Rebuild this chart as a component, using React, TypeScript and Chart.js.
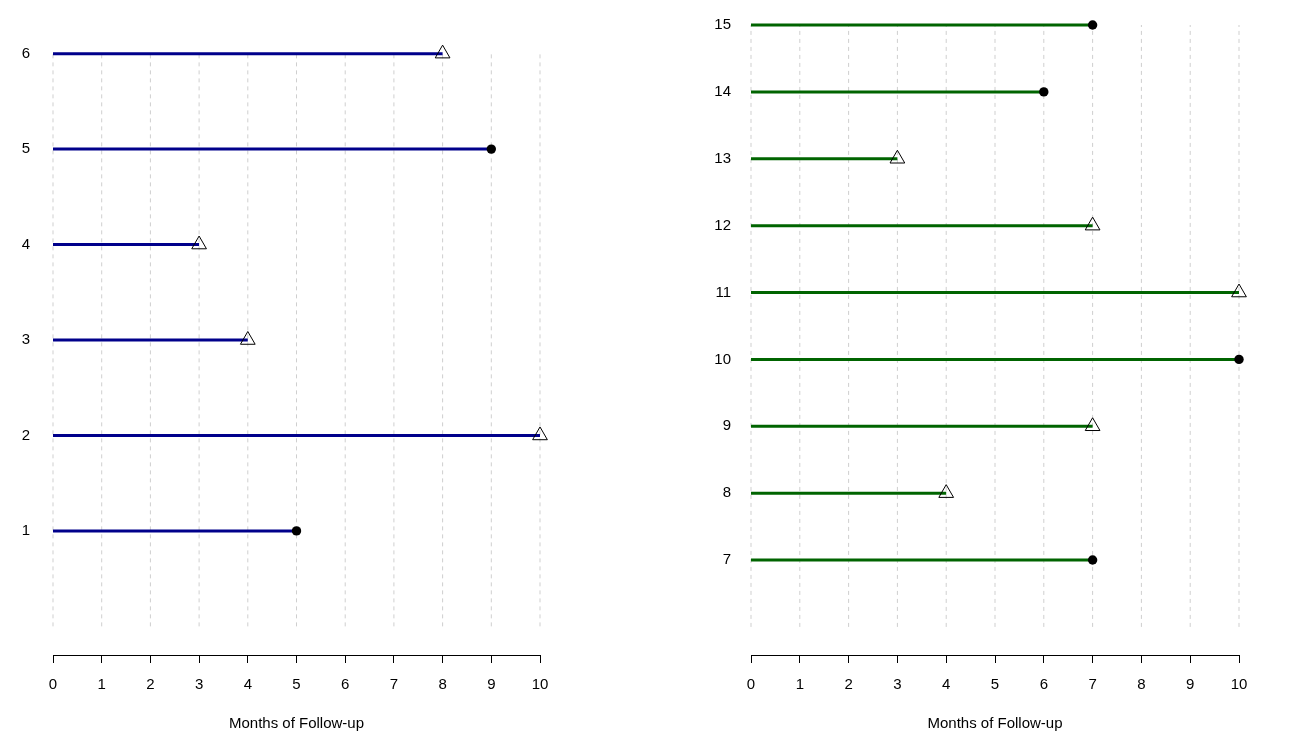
import React, { useEffect, useRef } from "react";
import { Chart, registerables } from "chart.js";

Chart.register(...registerables);

const xTicks = [0, 1, 2, 3, 4, 5, 6, 7, 8, 9, 10];
const axisTitle = "Months of Follow-up";

const leftSubjects = [1, 2, 3, 4, 5, 6];
const leftTimes = [5, 10, 4, 3, 9, 8];
const leftStatus = [1, 0, 0, 0, 1, 0]; // 1 = event (filled circle), 0 = censored (open triangle)

const rightSubjects = [7, 8, 9, 10, 11, 12, 13, 14, 15];
const rightTimes = [7, 4, 7, 10, 10, 7, 3, 6, 7];
const rightStatus = [1, 0, 0, 1, 0, 0, 0, 1, 1];

const FONT = "'Liberation Sans', Arial, sans-serif";

type PanelProps = {
  subjects: number[];
  times: number[];
  status: number[];
  color: string;
  yMin: number;
  yMax: number;
  left: number;
  width: number;
  yAxisWidth: number;
  yPad: number;
  rightPad: number;
};

function Panel(p: PanelProps) {
  const ref = useRef<HTMLCanvasElement | null>(null);
  useEffect(() => {
    if (!ref.current) return;
    const lo = Math.min(...p.subjects) - 1;
    const hi = Math.max(...p.subjects);
    const gridSets = xTicks.map((t) => ({
      data: [
        { x: t, y: lo },
        { x: t, y: hi },
      ],
      showLine: true,
      borderColor: "#cfcfcf",
      borderWidth: 1,
      borderDash: [4, 4],
      pointRadius: 0,
      order: 10,
      clip: false as any,
    }));
    const segSets = p.subjects.map((s, i) => ({
      data: [
        { x: 0, y: s },
        { x: p.times[i], y: s },
      ],
      showLine: true,
      borderColor: p.color,
      borderWidth: 3,
      pointRadius: 0,
      order: 5,
      clip: false as any,
    }));
    const events = p.subjects
      .map((s, i) => ({ x: p.times[i], y: s, st: p.status[i] }))
      .filter((d) => d.st === 1)
      .map((d) => ({ x: d.x, y: d.y }));
    const censored = p.subjects
      .map((s, i) => ({ x: p.times[i], y: s, st: p.status[i] }))
      .filter((d) => d.st === 0)
      .map((d) => ({ x: d.x, y: d.y }));
    const chart = new Chart(ref.current, {
      type: "scatter",
      data: {
        datasets: [
          {
            data: events,
            pointStyle: "circle",
            pointRadius: 4.7,
            backgroundColor: "#000",
            borderColor: "#000",
            borderWidth: 0,
            order: 0,
            clip: false as any,
          },
          {
            data: censored,
            pointStyle: "triangle",
            pointRadius: 8.5,
            backgroundColor: "rgba(0,0,0,0)",
            borderColor: "#000",
            borderWidth: 1,
            order: 0,
            clip: false as any,
          },
          ...segSets,
          ...gridSets,
        ] as any,
      },
      options: {
        animation: false,
        responsive: false,
        maintainAspectRatio: false,
        events: [],
        layout: { padding: { top: 25, right: p.rightPad, left: 0, bottom: 0 } },
        plugins: { legend: { display: false }, tooltip: { enabled: false } },
        scales: {
          x: {
            type: "linear",
            min: 0,
            max: 10,
            afterBuildTicks: (scale: any) => {
              scale.ticks = xTicks.map((v) => ({ value: v }));
            },
            afterFit: (scale: any) => {
              scale.height = 87;
            },
            grid: {
              drawOnChartArea: false,
              drawTicks: true,
              tickLength: 8,
              color: "#000",
              lineWidth: 1,
            },
            border: { display: true, color: "#000", width: 1 },
            ticks: {
              autoSkip: false,
              maxRotation: 0,
              padding: 13,
              color: "#000",
              font: { family: FONT, size: 15 },
            },
            title: {
              display: true,
              text: axisTitle,
              color: "#000",
              font: { family: FONT, size: 15 },
              padding: { top: 0, bottom: 9 },
            },
          },
          y: {
            type: "linear",
            min: p.yMin,
            max: p.yMax,
            afterBuildTicks: (scale: any) => {
              scale.ticks = p.subjects.map((v) => ({ value: v }));
            },
            afterFit: (scale: any) => {
              scale.width = p.yAxisWidth;
              scale.paddingTop = 0;
              scale.paddingBottom = 0;
            },
            grid: { display: false, drawTicks: false },
            border: { display: false },
            ticks: {
              autoSkip: false,
              padding: p.yPad,
              color: "#000",
              font: { family: FONT, size: 15 },
            },
          },
        },
      } as any,
    });
    return () => chart.destroy();
  }, []);
  return (
    <div style={{ position: "absolute", left: p.left, top: 0, width: p.width, height: 742 }}>
      <canvas ref={ref} width={p.width} height={742} style={{ width: p.width, height: 742, display: "block" }} />
    </div>
  );
}

export default function App() {
  return (
    <div style={{ position: "fixed", left: 0, top: 0, width: 1308, height: 742, background: "#fff" }}>
      <Panel
        subjects={leftSubjects}
        times={leftTimes}
        status={leftStatus}
        color="#00008B"
        yMin={-0.3}
        yMax={6.3}
        left={0}
        width={654}
        yAxisWidth={53}
        yPad={23}
        rightPad={114}
      />
      <Panel
        subjects={rightSubjects}
        times={rightTimes}
        status={rightStatus}
        color="#006400"
        yMin={5.58}
        yMax={15}
        left={654}
        width={654}
        yAxisWidth={97}
        yPad={20}
        rightPad={69}
      />
    </div>
  );
}
